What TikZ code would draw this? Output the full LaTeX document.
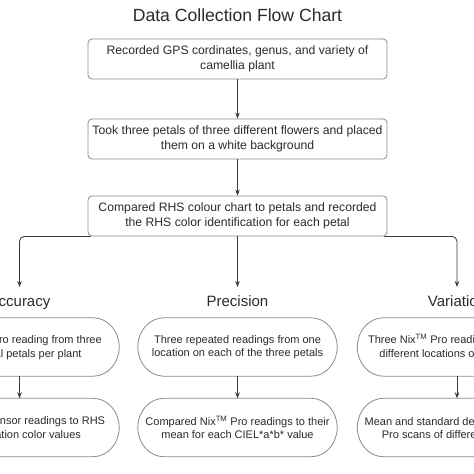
\documentclass[tikz,border=0pt]{standalone}
\usepackage{fontspec}
\setmainfont{Liberation Sans}
\usetikzlibrary{arrows.meta}
\definecolor{txt}{HTML}{2B2B2B}
\definecolor{bord}{HTML}{8A8A8A}
\definecolor{conn}{HTML}{3A3A3A}
\newcommand\tm{\textsuperscript{TM}}
\newcommand\ovalborder[1]{%
\draw[ovalline] ([xshift=26pt]#1.north west) -- ([xshift=-26pt]#1.north east)
 .. controls ([xshift=-11.6pt]#1.north east) and ([yshift=16pt]#1.east) .. (#1.east)
 .. controls ([yshift=-16pt]#1.east) and ([xshift=-11.6pt]#1.south east) .. ([xshift=-26pt]#1.south east)
 -- ([xshift=26pt]#1.south west)
 .. controls ([xshift=11.6pt]#1.south west) and ([yshift=-16pt]#1.west) .. (#1.west)
 .. controls ([yshift=16pt]#1.west) and ([xshift=11.6pt]#1.north west) .. ([xshift=26pt]#1.north west) -- cycle;}
\begin{document}
\begin{tikzpicture}[x=1pt,y=-1pt,
  every node/.style={text=txt},
  stepbox/.style={draw=bord, line width=0.8pt, rounded corners=4pt, minimum width=299pt, minimum height=40pt, align=center, font=\fontsize{12.2}{14.5}\selectfont, inner sep=0pt},
  ovaltext/.style={minimum width=199pt, minimum height=58pt, align=center, font=\fontsize{11}{13.5}\selectfont, inner sep=0pt},
  ovalline/.style={draw=bord, line width=0.8pt},
  header/.style={anchor=north, inner sep=0pt, outer sep=0pt, text height=19.5pt, text depth=3pt, font=\fontsize{15}{17}\selectfont},
  arr/.style={draw=conn, line width=0.8pt, -{Stealth[length=6pt,width=4.5pt]}}
]
\useasboundingbox (0,0) rectangle (474,474);
\fill[white] (0,0) rectangle (474,474);
\clip (0,0) rectangle (474,474);

\node[font=\fontsize{17.6}{20}\selectfont] (title) at (237.5,15.5) {Data Collection Flow Chart};

\node[stepbox] (b1) at (237.5,59) {Recorded GPS cordinates, genus, and variety of\\camellia plant};
\node[stepbox] (b2) at (237.5,139) {Took three petals of three different flowers and placed\\them on a white background};
\node[stepbox] (b3) at (237.5,216) {Compared RHS colour chart to petals and recorded\\the RHS color identification for each petal};

\node[header] (acc) at (19.5,287) {Accuracy};
\node[header] (prec) at (237.5,287) {Precision};
\node[header] (var) at (457,287) {Variation};

\node[ovaltext] (a1) at (19.5,347) {One Nix\tm{} Pro reading from three\\individual petals per plant};
\node[ovaltext] (p1) at (237.5,347) {Three repeated readings from one\\location on each of the three petals};
\node[ovaltext] (v1) at (457,347) {Three Nix\tm{} Pro readings from three\\different locations on each petal};

\node[ovaltext] (a2) at (19.5,427.5) {Compared sensor readings to RHS\\identification color values};
\node[ovaltext] (p2) at (237.5,427.5) {Compared Nix\tm{} Pro readings to their\\mean for each CIEL*a*b* value};
\node[ovaltext] (v2) at (457,427.5) {Mean and standard deviation of Nix\tm\\Pro scans of different locations};

\foreach \n in {a1,p1,v1,a2,p2,v2} {\ovalborder{\n}}

\draw[arr] (b1.south) -- (b2.north);
\draw[arr] (b2.south) -- (b3.north);
\draw[arr] (b3.south) -- (prec.north);
\draw[arr, rounded corners=5pt] ([xshift=3pt]b3.south west) -| (acc.north);
\draw[arr, rounded corners=5pt] ([xshift=-3pt]b3.south east) -| (var.north);

\draw[arr] (a1.south) -- (a2.north);
\draw[arr] (p1.south) -- (p2.north);
\draw[arr] (v1.south) -- (v2.north);
\end{tikzpicture}
\end{document}
